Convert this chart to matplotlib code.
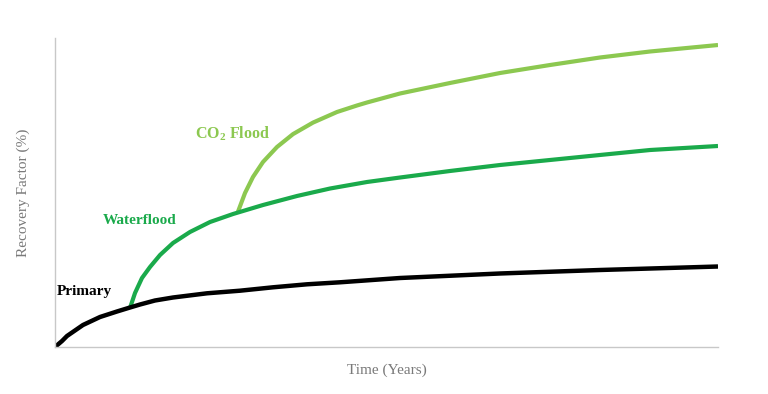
import matplotlib.pyplot as plt

plt.rcParams['font.family'] = ['Liberation Serif', 'DejaVu Serif']
plt.rcParams['mathtext.fontset'] = 'custom'
plt.rcParams['mathtext.rm'] = 'Liberation Serif'
plt.rcParams['mathtext.bf'] = 'Liberation Serif:bold'

# time and recovery factor, both in arbitrary 0-100 units
primary_t = [0, 1.06, 1.81, 4.22, 6.79, 9.35, 11.31, 12.82, 15.08, 17.80, 22.93,
             27.90, 32.88, 38.01, 42.99, 52.04, 67.12, 82.20, 100]
primary_rf = [0, 1.94, 3.56, 7.12, 9.71, 11.49, 12.78, 13.75, 15.05, 16.02, 17.38,
              18.22, 19.32, 20.29, 20.94, 22.33, 23.79, 24.92, 26.05]

water_t = [11.31, 12.07, 13.12, 14.33, 15.84, 17.80, 20.36, 23.38, 26.85, 31.37,
           36.50, 41.48, 47.06, 52.04, 59.58, 67.12, 74.66, 82.20, 89.74, 100]
water_rf = [12.62, 17.48, 22.33, 25.89, 29.77, 33.66, 37.22, 40.45, 43.04, 45.95,
            48.87, 51.29, 53.40, 54.85, 56.96, 58.90, 60.52, 62.14, 63.75, 65.05]

co2_t = [27.60, 28.66, 29.86, 31.37, 33.48, 35.90, 38.91, 42.53, 45.55, 47.06,
         52.04, 59.58, 67.12, 74.66, 82.20, 89.74, 100]
co2_rf = [43.79, 49.84, 55.02, 59.87, 64.72, 68.90, 72.62, 76.05, 78.16, 79.13,
          82.04, 85.44, 88.67, 91.26, 93.69, 95.63, 97.73]

black = '#000000'
green = '#1aaa4b'
light_green = '#8cc850'
grey = '#7a7a7a'

fig = plt.figure(figsize=(7.68, 3.94), dpi=100)
ax = fig.add_axes([55 / 768, 47 / 394, 663 / 768, 309 / 394])

ax.plot(co2_t, co2_rf, color=light_green, lw=3.0, solid_capstyle='butt',
        solid_joinstyle='round')
ax.plot(water_t, water_rf, color=green, lw=3.0, solid_capstyle='butt',
        solid_joinstyle='round')
ax.plot(primary_t, primary_rf, color=black, lw=3.2, solid_capstyle='butt',
        solid_joinstyle='round')

ax.text(0.3, 17.8, 'Primary', color=black, fontsize=11, fontweight='bold',
        ha='left', va='center')
ax.text(7.2, 41.1, 'Waterflood', color=green, fontsize=11, fontweight='bold',
        ha='left', va='center')
ax.text(21.1, 69.0, r'CO$_\mathbf{2}$ Flood', color=light_green, fontsize=11.5,
        fontweight='bold', ha='left', va='center')

ax.set_xlim(0, 100)
ax.set_ylim(0, 100)
ax.set_xticks([])
ax.set_yticks([])
for side in ['top', 'right']:
    ax.spines[side].set_visible(False)
for side in ['left', 'bottom']:
    ax.spines[side].set_color('#c8c8c8')
    ax.spines[side].set_linewidth(1.0)

ax.set_xlabel('Time (Years)', color=grey, fontsize=11, labelpad=12)
ax.set_ylabel('Recovery Factor (%)', color=grey, fontsize=11, labelpad=18)

fig.savefig('out.png', dpi=100)
